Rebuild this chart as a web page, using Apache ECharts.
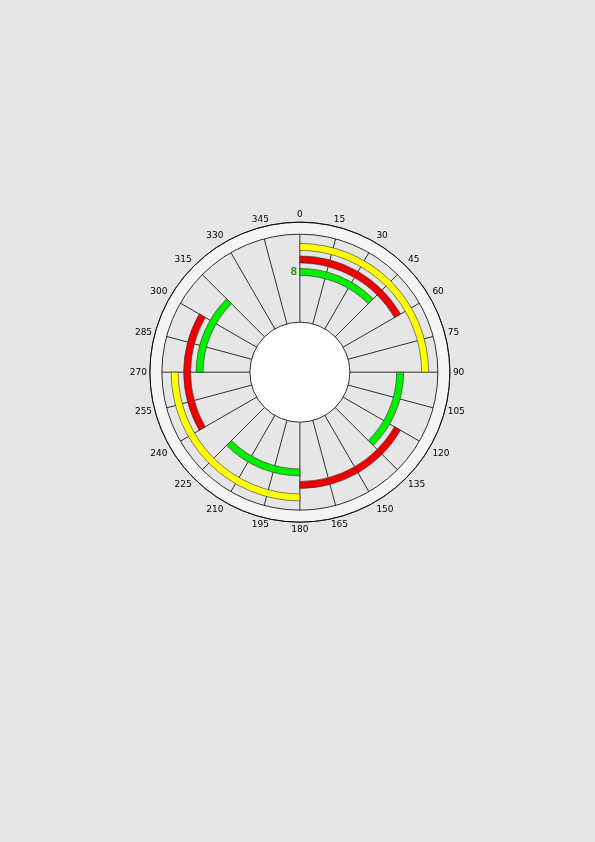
<!DOCTYPE html>
<html>
<head>
<meta charset="utf-8">
<script src="https://cdn.jsdelivr.net/npm/echarts@6/dist/echarts.min.js"></script>
<style>html,body{margin:0;background:#e6e6e6;}#content{width:595px;height:842px;}</style>
</head>
<body>
<div id="content"></div>
<script>
// ring levels (inner to outer) and their arcs in degrees
var levels = ['8', '6', '4'];
var levelColors = ['#00ee00', '#ee0000', '#ffff00'];
var labelColors = ['#1a9a1a', '#cc0000', '#b8a000'];
var arcs8 = [[0, 45], [90, 135], [180, 225], [270, 315]];
var arcs6 = [[0, 60], [120, 180], [240, 300]];
var arcs4 = [[0, 90], [180, 270]];
var angleTicks = [0, 15, 30, 45, 60, 75, 90, 105, 120, 135, 150, 165, 180, 195, 210, 225, 240, 255, 270, 285, 300, 315, 330, 345];

var allArcs = [arcs8, arcs6, arcs4];
var radiusCats = ['', '', '', '', '8', '6', '4', ''];

// build gap/fill segments per level
var segs = allArcs.map(function (arcs, li) {
    var out = [], pos = 0;
    arcs.forEach(function (a) {
        out.push({len: a[0] - pos, fill: false});
        out.push({len: a[1] - a[0], fill: true});
        pos = a[1];
    });
    return out;
});
var maxSeg = Math.max.apply(null, segs.map(function (s) { return s.length; }));
var series = [];
for (var j = 0; j < maxSeg; j++) {
    var data = radiusCats.map(function (c) {
        var li = levels.indexOf(c);
        if (li < 0 || !segs[li][j]) return '-';
        var s = segs[li][j];
        return {
            value: s.len,
            itemStyle: s.fill ? {color: levelColors[li], borderColor: '#333', borderWidth: 0.6}
                              : {color: 'rgba(0,0,0,0)', borderWidth: 0}
        };
    });
    series.push({type: 'bar', coordinateSystem: 'polar', polarIndex: 0, stack: 'all',
        barWidth: 7, silent: true, z: 3, data: data});
}
series.push({type: 'pie', radius: [138, 150], center: ['50.4%', '44.2%'], silent: true, z: 1,
    label: {show: false}, itemStyle: {color: '#f4f4f4', borderColor: '#000', borderWidth: 0.8},
    data: [{value: 1}]});
series.push({type: 'pie', radius: [0, 50], center: ['50.4%', '44.2%'], silent: true, z: 4,
    label: {show: false}, itemStyle: {color: '#fff', borderColor: '#000', borderWidth: 0.8},
    data: [{value: 1}]});

var rich = {};
levels.forEach(function (l, i) { rich['c' + l] = {color: labelColors[i], fontWeight: 'bold', fontSize: 11}; });

var myChart = echarts.init(document.getElementById('content'));
myChart.setOption({
    backgroundColor: '#e6e6e6',
    animation: false,
    polar: [
        {center: ['50.4%', '44.2%'], radius: [44, 144]},
        {center: ['50.4%', '44.2%'], radius: [0, 150]}
    ],
    angleAxis: [
        {polarIndex: 0, type: 'value', min: 0, max: 360, interval: 15, startAngle: 90, clockwise: true,
            axisLine: {show: false}, axisTick: {show: false}, axisLabel: {show: false},
            splitLine: {show: true, lineStyle: {color: '#000', width: 0.8}}},
        {polarIndex: 1, type: 'value', min: 0, max: 360, interval: 15, startAngle: 90, clockwise: true, z: 10,
            axisLine: {show: true, lineStyle: {color: '#000', width: 0.8}}, axisTick: {show: false},
            splitLine: {show: false},
            axisLabel: {inside: true, margin: 3, fontSize: 9, color: '#000', fontFamily: 'DejaVu Sans',
                rotate: 'tangential',
                formatter: function (v) { return angleTicks.indexOf(v) >= 0 ? String(v) : ''; }}}
    ],
    radiusAxis: [
        {polarIndex: 0, type: 'category', data: radiusCats, z: 10,
            axisLine: {show: false}, axisTick: {show: false}, splitLine: {show: false},
            axisLabel: {margin: 3, rich: rich, formatter: function (v) { return v ? '{c' + v + '|' + v + '}' : ''; }}},
        {polarIndex: 1, type: 'value', show: false}
    ],
    series: series
});
</script>
</body>
</html>
